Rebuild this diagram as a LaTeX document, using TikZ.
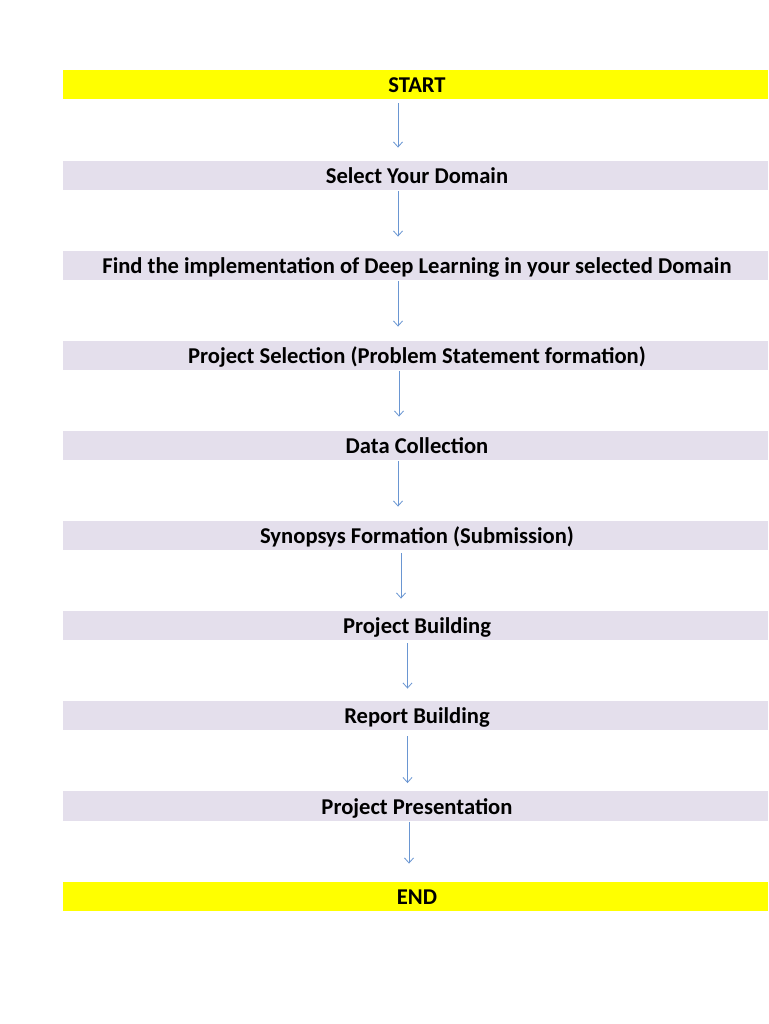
\documentclass[tikz,border=0pt]{standalone}
\usepackage{fontspec}
\setmainfont{Carlito}
\usetikzlibrary{arrows.meta}
\definecolor{barpurple}{HTML}{E4DFEC}
\definecolor{baryellow}{HTML}{FFFF00}
\definecolor{arrowblue}{HTML}{6A96D2}
\begin{document}
\begin{tikzpicture}[x=1pt,y=1pt,
  bar/.style={rectangle, inner sep=0pt, minimum width=705pt, minimum height=29.5pt, fill=barpurple},
  ybar/.style={bar, fill=baryellow},
  lbl/.style={inner sep=0pt, font=\bfseries\fontsize{22.6}{25}\selectfont, text=black, anchor=base},
  flow/.style={draw=arrowblue, line width=0.8pt, -{Straight Barb[length=5pt,width=9pt,line width=0.8pt]}}
]
\useasboundingbox (0,0) rectangle (768,-1024);
\fill[white] (0,0) rectangle (768,-1024);
\node[ybar] (n0) at (415.5,-84.5) {};
\node[bar] (n1) at (415.5,-175.5) {};
\node[bar] (n2) at (415.5,-265.5) {};
\node[bar] (n3) at (415.5,-355.5) {};
\node[bar] (n4) at (415.5,-445.5) {};
\node[bar] (n5) at (415.5,-535.5) {};
\node[bar] (n6) at (415.5,-625.5) {};
\node[bar] (n7) at (415.5,-715.5) {};
\node[bar] (n8) at (415.5,-806) {};
\node[ybar] (n9) at (415.5,-896.5) {};
\node[lbl] (t0) at ([shift={(1.5,-8)}]n0.center) {START};
\node[lbl] (t1) at ([shift={(1.5,-8)}]n1.center) {Select Your Domain};
\node[lbl] (t2) at ([shift={(1.5,-8)}]n2.center) {Find the implementation of Deep Learning in your selected Domain};
\node[lbl] (t3) at ([shift={(1.5,-8)}]n3.center) {Project Selection (Problem Statement formation)};
\node[lbl] (t4) at ([shift={(1.5,-8)}]n4.center) {Data Collection};
\node[lbl] (t5) at ([shift={(1.5,-8)}]n5.center) {Synopsys Formation (Submission)};
\node[lbl] (t6) at ([shift={(1.5,-8)}]n6.center) {Project Building};
\node[lbl] (t7) at ([shift={(1.5,-8)}]n7.center) {Report Building};
\node[lbl] (t8) at ([shift={(1.5,-8)}]n8.center) {Project Presentation};
\node[lbl] (t9) at ([shift={(1.5,-8)}]n9.center) {END};
\draw[flow] ([shift={(-17.5,-4)}]n0.south) -- ([shift={(-17.5,13)}]n1.north);
\draw[flow] ([shift={(-17.5,-1)}]n1.south) -- ([shift={(-17.5,14)}]n2.north);
\draw[flow] ([shift={(-17.5,-1)}]n2.south) -- ([shift={(-17.5,14)}]n3.north);
\draw[flow] ([shift={(-16.5,-1)}]n3.south) -- ([shift={(-16.5,14)}]n4.north);
\draw[flow] ([shift={(-17.5,-1)}]n4.south) -- ([shift={(-17.5,14)}]n5.north);
\draw[flow] ([shift={(-14.5,-3)}]n5.south) -- ([shift={(-14.5,12)}]n6.north);
\draw[flow] ([shift={(-8,-3)}]n6.south) -- ([shift={(-8,12)}]n7.north);
\draw[flow] ([shift={(-8,-6)}]n7.south) -- ([shift={(-8,8)}]n8.north);
\draw[flow] ([shift={(-6.5,-1)}]n8.south) -- ([shift={(-6.5,18)}]n9.north);
\end{tikzpicture}
\end{document}
